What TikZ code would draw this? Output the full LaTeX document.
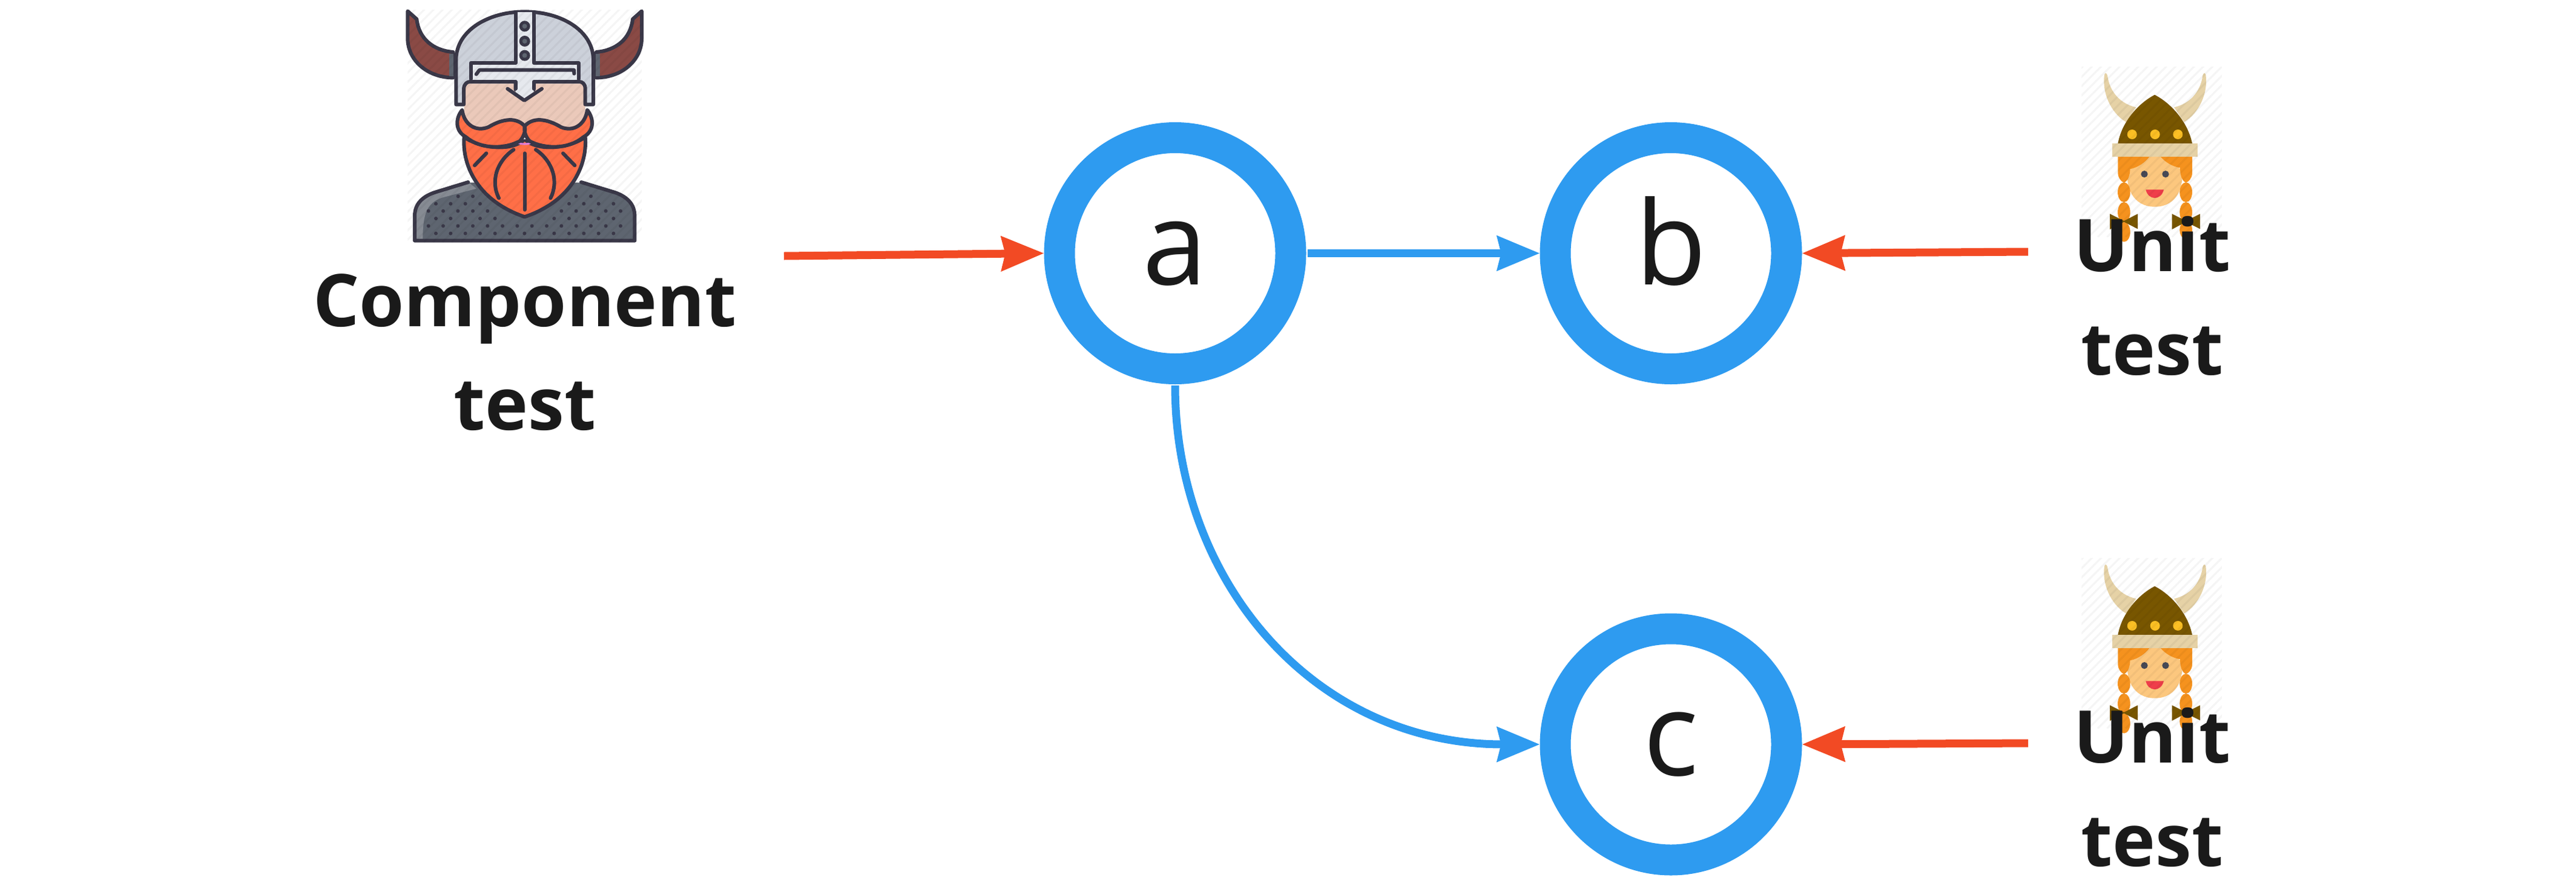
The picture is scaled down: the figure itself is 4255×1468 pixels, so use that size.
\documentclass[tikz,border=0pt]{standalone}
\usepackage{fontspec}
\setmainfont{Open Sans}
\usetikzlibrary{arrows.meta}
\definecolor{ringblue}{HTML}{2E9BF0}
\definecolor{redarrow}{HTML}{F24A24}
\definecolor{inkk}{HTML}{1A1A1A}
\definecolor{vout}{HTML}{3A3848}
\definecolor{vhorn}{HTML}{8A4A45}
\definecolor{vhelm}{HTML}{CCD1DA}
\definecolor{vlite}{HTML}{E6E9EE}
\definecolor{vface}{HTML}{EBC9BA}
\definecolor{vbeard}{HTML}{FF6F47}
\definecolor{vbody}{HTML}{5E6570}
\definecolor{gbrown}{HTML}{785600}
\definecolor{gtan}{HTML}{E6D2A6}
\definecolor{ggold}{HTML}{FBBF24}
\definecolor{ghair}{HTML}{F5921E}
\definecolor{gskin}{HTML}{FCC77E}
\definecolor{gdark}{HTML}{474955}
\definecolor{gred}{HTML}{EF3E4A}
\tikzset{
  ring/.style={circle,draw=ringblue,fill=white,line width=25.5pt,minimum size=191pt,inner sep=0pt,text=inkk,text height=51.5pt,text depth=0pt,font=\fontsize{96}{96}\selectfont},
  bluelink/.style={draw=ringblue,line width=6.5pt,shorten <=1pt,-{Stealth[length=35pt,width=28pt,inset=3pt]}},
  redlink/.style={draw=redarrow,line width=6.5pt,-{Stealth[length=35pt,width=28pt,inset=3pt]}},
  lab/.style={align=center,text=inkk,font=\fontsize{60}{85.5}\selectfont\bfseries,inner sep=0pt},
  voutline/.style={draw=vout,line width=3pt,line join=round,line cap=round},
  zoomed/.style={x=0.16667pt,y=-0.16667pt},
}
\newcommand{\hatchbox}[4]{%
  \begin{scope}
    \clip (#1,#2) rectangle (#3,#4);
    \foreach \i in {0,46,...,2400}
      \draw[black,opacity=0.04,line width=1.6pt] ({#1+\i-1300},#4) -- ({#1+\i},{#4-1300});
  \end{scope}}
\newcommand{\vikinggirl}[1]{%
  \begin{scope}[shift={(3400,#1)},zoomed]
    % horns
    \fill[gtan] (228,100) .. controls (232,88) and (240,92) .. (243,105) .. controls (255,190) and (310,245) .. (385,262) -- (335,335) .. controls (260,290) and (215,190) .. (228,100) -- cycle;
    \fill[gtan] (730,100) .. controls (726,88) and (718,92) .. (715,105) .. controls (703,190) and (648,245) .. (573,262) -- (623,335) .. controls (698,290) and (743,190) .. (730,100) -- cycle;
    % face
    \fill[gskin] (345,570) -- (452,505) -- (505,505) -- (610,570) .. controls (625,650) and (590,755) .. (478,755) .. controls (365,755) and (330,650) .. (345,570) -- cycle;
    % hair and braids
    \fill[ghair] (295,505) -- (295,590) .. controls (297,615) and (312,630) .. (325,636) .. controls (345,625) and (355,600) .. (355,568) .. controls (395,560) and (430,535) .. (452,505) -- cycle;
    \fill[ghair] (663,505) -- (663,590) .. controls (661,615) and (646,630) .. (632,636) .. controls (612,625) and (603,600) .. (603,562) .. controls (565,555) and (530,535) .. (505,505) -- cycle;
    \fill[ghair] (325,683) ellipse (31 and 49);
    \fill[ghair] (325,782) ellipse (31 and 50);
    \fill[ghair] (325,880) ellipse (31 and 49);
    \fill[ghair] (632,683) ellipse (31 and 49);
    \fill[ghair] (632,782) ellipse (31 and 50);
    \fill[ghair] (632,870) ellipse (31 and 45);
    \fill[gdark] (426,593) circle (17);
    \fill[gdark] (531,593) circle (17);
    \fill[gred] (433,670) -- (522,670) .. controls (510,725) and (445,725) .. (433,670) -- cycle;
    % helmet
    \fill[gbrown] (295,441) .. controls (315,330) and (400,240) .. (477,200) .. controls (555,240) and (640,330) .. (663,441) -- cycle;
    \fill[gtan] (268,441) rectangle (690,507);
    \fill[ggold] (365,396) circle (24);
    \fill[ggold] (479,396) circle (24);
    \fill[ggold] (592,396) circle (24);
    % bows
    \fill[gbrown] (255,790) -- (325,825) -- (393,790) -- (393,865) -- (325,830) -- (255,867) -- cycle;
    \fill[gbrown] (563,790) -- (632,825) -- (702,790) -- (702,865) -- (632,830) -- (563,867) -- cycle;
    \hatchbox{115}{60}{810}{905}
  \end{scope}}
\begin{document}
\begin{tikzpicture}[x=0.5pt,y=-0.5pt]
\useasboundingbox (0,0) rectangle (4255,1468);
\fill[white] (0,0) rectangle (4255,1468);

% Component-test viking
\begin{scope}[shift={(620,0)},zoomed]
  % horns
  \filldraw[fill=vhorn,voutline] (160,55) -- (205,95) .. controls (215,190) and (285,250) .. (385,258) -- (385,385) .. controls (260,385) and (160,300) .. (160,190) -- cycle;
  \filldraw[fill=vhorn,voutline] (1320,55) -- (1275,95) .. controls (1265,190) and (1195,250) .. (1095,258) -- (1095,385) .. controls (1220,385) and (1320,300) .. (1320,190) -- cycle;
  \fill[vbody] (367,268) rectangle (388,378);
  \fill[vbody] (1092,268) rectangle (1113,378);
  % body
  \fill[vbody] (195,1195) -- (195,1070) .. controls (195,1010) and (235,975) .. (290,955) -- (460,905) -- (1020,905) -- (1190,955) .. controls (1245,975) and (1285,1010) .. (1285,1070) -- (1285,1195) -- cycle;
  \fill[white,opacity=.25] (200,1185) -- (200,1070) .. controls (200,1010) and (240,975) .. (295,960) -- (470,910) -- (500,935) -- (330,980) .. controls (260,1005) and (235,1050) .. (235,1185) -- cycle;
  \draw[voutline] (460,903) -- (290,955) .. controls (235,975) and (195,1010) .. (195,1070) -- (195,1193) -- (1285,1193) -- (1285,1070) .. controls (1285,1010) and (1245,975) .. (1190,955) -- (1020,903);
  \foreach \x in {410,483,995,1068} \fill[vout] (\x,973) circle (9);
  \foreach \x in {300,373,446,519,960,1033,1106,1180} \fill[vout] (\x,1010) circle (9);
  \foreach \x in {263,336,409,483,556,922,995,1068,1142,1215} \fill[vout] (\x,1046) circle (9);
  \foreach \x in {300,373,446,519,593,886,960,1033,1106,1180} \fill[vout] (\x,1083) circle (9);
  \foreach \x in {263,336,409,483,556,630,703,776,849,922,995,1068,1142,1215} \fill[vout] (\x,1120) circle (9);
  \foreach \x in {300,373,446,519,593,666,739,812,886,960,1033,1106,1180} \fill[vout] (\x,1157) circle (9);
  % face
  \fill[vface] (440,415) -- (1040,415) -- (1040,560) .. controls (1035,640) and (1000,700) .. (740,700) .. controls (480,700) and (445,640) .. (440,560) -- cycle;
  % beard
  \filldraw[fill=vbeard,voutline] (440,680) .. controls (430,800) and (490,990) .. (740,1075) .. controls (990,990) and (1050,800) .. (1040,680) .. controls (950,740) and (800,750) .. (740,690) .. controls (680,750) and (530,740) .. (440,680) -- cycle;
  \draw[voutline] (740,760) -- (740,1040);
  \draw[voutline] (685,742) .. controls (600,800) and (570,900) .. (612,982);
  \draw[voutline] (795,742) .. controls (880,800) and (910,900) .. (868,982);
  \draw[voutline] (550,760) -- (492,820);
  \draw[voutline] (930,760) -- (988,820);
  % mouth
  \fill[white] (730,690) -- (750,690) -- (740,675) -- cycle;
  \draw[violet!50!magenta!50,line width=1.5pt] (705,708) .. controls (725,716) and (755,716) .. (772,708);
  % moustache
  \filldraw[fill=vbeard,voutline] (740,625) .. controls (690,570) and (610,600) .. (560,630) .. controls (500,655) and (440,620) .. (430,545) .. controls (395,590) and (395,650) .. (450,680) .. controls (520,740) and (640,740) .. (715,700) .. controls (735,680) and (745,650) .. (740,625) .. controls (790,570) and (870,600) .. (920,630) .. controls (980,655) and (1040,620) .. (1050,545) .. controls (1085,590) and (1085,650) .. (1030,680) .. controls (960,740) and (840,740) .. (765,700) .. controls (745,680) and (735,650) .. (740,625) -- cycle;
  % helmet
  \filldraw[fill=vhelm,voutline] (400,518) -- (400,290) .. controls (405,150) and (560,58) .. (740,58) .. controls (920,58) and (1075,150) .. (1080,290) -- (1080,518) -- (1040,518) -- (1040,440) .. controls (1040,415) and (1025,405) .. (1010,405) -- (785,405) -- (785,445) -- (695,445) -- (695,405) -- (470,405) .. controls (455,405) and (440,415) .. (438,440) -- (438,518) -- cycle;
  % nose guard cross
  \fill[vlite] (695,60) -- (695,312) -- (473,312) -- (473,398) -- (695,398) -- (695,462) -- (738,498) -- (785,462) -- (785,398) -- (1007,398) -- (1007,312) -- (785,312) -- (785,60) -- cycle;
  \draw[voutline] (695,60) -- (695,312) -- (473,312) -- (473,392);
  \draw[voutline] (785,60) -- (785,312) -- (1007,312) -- (1007,392);
  \draw[voutline] (470,405) -- (695,405) -- (695,440);
  \draw[voutline] (1010,405) -- (785,405) -- (785,440);
  \draw[voutline] (655,440) -- (738,498) -- (825,440);
  \draw[voutline] (500,368) \foreach \i in {0,...,18} { -- ({516+\i*26},{\ifodd\i 372\else 347\fi}) } -- (985,365);
  \foreach \y in {130,204,275}{
    \fill[vout] (740,\y) circle (27);
    \fill[vbody] (740,\y) circle (12);
  }
  \hatchbox{160}{50}{1320}{1200}
\end{scope}

% Unit-test vikings
\vikinggirl{90}
\vikinggirl{902}

% graph
\node[ring] (a) at (1941,418.5) {a};
\node[ring] (b) at (2760,418.5) {b};
\node[ring] (c) at (2760,1230) {c};

\node[lab] (comptext) at (867,582) {Component\\test};
\node[lab] (unitb) at (3555,489) {Unit\\test};
\node[lab] (unitc) at (3555,1301) {Unit\\test};

\coordinate (compfrom) at (1295,423);
\coordinate (unitbfrom) at (3350,416);
\coordinate (unitcfrom) at (3350,1228);

\draw[redlink] (compfrom) -- (a.west);
\draw[redlink] (unitbfrom) -- (b.east);
\draw[redlink] (unitcfrom) -- (c.east);
\draw[bluelink] (a.east) -- (b.west);
\draw[bluelink] (a.south) .. controls (1941,960) and (2170,1230) .. (c.west);
\end{tikzpicture}
\end{document}
